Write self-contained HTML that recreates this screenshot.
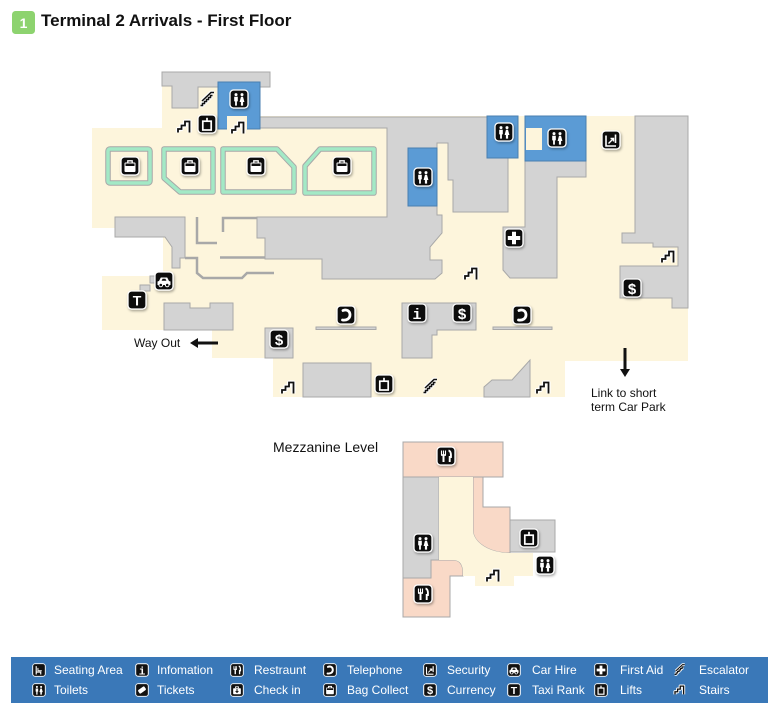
<!DOCTYPE html>
<html><head><meta charset="utf-8"><style>
html,body{margin:0;padding:0;background:#fff;}
svg{display:block;}
</style></head><body>
<svg width="772" height="706" viewBox="0 0 772 706" xmlns="http://www.w3.org/2000/svg" xmlns:xlink="http://www.w3.org/1999/xlink" font-family="'Liberation Sans', Arial, sans-serif">
<defs>
<filter id="sh" x="-40%" y="-40%" width="180%" height="180%"><feDropShadow dx="1" dy="1.5" stdDeviation="1.3" flood-color="#000" flood-opacity="0.35"/></filter>
<symbol id="wc" viewBox="0 0 20 20"><rect x="1" y="1" width="18" height="18" rx="3.5" fill="#111" stroke="#fff" stroke-width="1.3"/><circle cx="7" cy="5.6" r="1.5" fill="#fff"/><path d="M5.2 7.8h3.6v4.6h-0.9v4.2h-1.8v-4.2h-0.9z" fill="#fff"/><circle cx="13" cy="5.6" r="1.5" fill="#fff"/><path d="M12 7.8h2l1.4 5.2h-1.3v3.6h-2.2v-3.6h-1.3z" fill="#fff"/></symbol>
<symbol id="bag" viewBox="0 0 20 20"><rect x="1" y="1" width="18" height="18" rx="3.5" fill="#111" stroke="#fff" stroke-width="1.3"/><path d="M7.8 6.5V4.8h4.4v1.7" fill="none" stroke="#fff" stroke-width="1.3"/><rect x="4.5" y="6.5" width="11" height="9.5" rx="1" fill="#fff"/><rect x="5.5" y="7.5" width="9" height="2.5" fill="#111"/></symbol>
<symbol id="lift" viewBox="0 0 20 20"><rect x="1" y="1" width="18" height="18" rx="3.5" fill="#111" stroke="#fff" stroke-width="1.3"/><rect x="5.8" y="7.2" width="8.4" height="8.8" fill="none" stroke="#fff" stroke-width="1.7"/><path d="M10 3.8V7.2" stroke="#fff" stroke-width="1.7"/></symbol>
<symbol id="phone" viewBox="0 0 20 20"><rect x="1" y="1" width="18" height="18" rx="3.5" fill="#111" stroke="#fff" stroke-width="1.3"/><path d="M7 5.5c3.8-1.5 7 0.5 7 4.3c0 3.8-3.3 5.8-7.5 5.2" fill="none" stroke="#fff" stroke-width="2.8" stroke-linecap="round"/></symbol>
<symbol id="aid" viewBox="0 0 20 20"><rect x="1" y="1" width="18" height="18" rx="3.5" fill="#111" stroke="#fff" stroke-width="1.3"/><path d="M8 3.8h4v4.2h4.2v4h-4.2v4.2h-4v-4.2H3.8v-4H8z" fill="#fff"/></symbol>
<symbol id="sec" viewBox="0 0 20 20"><rect x="1" y="1" width="18" height="18" rx="3.5" fill="#111" stroke="#fff" stroke-width="1.3"/><path d="M5 5.5v10.5h10" fill="none" stroke="#fff" stroke-width="1.6"/><path d="M14.5 4.5v8.5" stroke="#fff" stroke-width="1.6"/><path d="M7.5 13.5l5-5M9.5 8.5h3v3" fill="none" stroke="#fff" stroke-width="1.4"/></symbol>
<symbol id="car" viewBox="0 0 20 20"><rect x="1" y="1" width="18" height="18" rx="3.5" fill="#111" stroke="#fff" stroke-width="1.3"/><path d="M3.5 14v-3.5l1.5-0.5 1.8-3.5h6.4l1.8 3.5 1.5 0.5V14z" fill="#fff"/><path d="M7.6 9.8l1-2h2.8l1 2z" fill="#111"/><circle cx="6.8" cy="14" r="1.8" fill="#111" stroke="#fff" stroke-width="1"/><circle cx="13.2" cy="14" r="1.8" fill="#111" stroke="#fff" stroke-width="1"/></symbol>
<symbol id="food" viewBox="0 0 20 20"><rect x="1" y="1" width="18" height="18" rx="3.5" fill="#111" stroke="#fff" stroke-width="1.3"/><path d="M5.5 4.5v4.3M7.5 4.5v4.3M9.5 4.5v4.3" stroke="#fff" stroke-width="1.1"/><path d="M5 9h5" stroke="#fff" stroke-width="1.6"/><path d="M7.5 9v7" stroke="#fff" stroke-width="2"/><path d="M12.5 4.5c2.2 0.4 2.6 3.5 2.4 6.5h-1.2v5" fill="none" stroke="#fff" stroke-width="1.9"/></symbol>
<symbol id="seat" viewBox="0 0 20 20"><rect x="1" y="1" width="18" height="18" rx="3.5" fill="#111" stroke="#fff" stroke-width="1.3"/><path d="M6 4.5v8.5h6.5v3.5M6 13v3.5" fill="none" stroke="#fff" stroke-width="1.6"/><path d="M8.5 7v4h5.5" fill="none" stroke="#fff" stroke-width="1.4"/></symbol>
<symbol id="ticket" viewBox="0 0 20 20"><rect x="1" y="1" width="18" height="18" rx="3.5" fill="#111" stroke="#fff" stroke-width="1.3"/><g transform="rotate(-35 10 10)"><rect x="4.5" y="7" width="11" height="6" rx="1.5" fill="#fff"/></g></symbol>
<symbol id="checkin" viewBox="0 0 20 20"><rect x="1" y="1" width="18" height="18" rx="3.5" fill="#111" stroke="#fff" stroke-width="1.3"/><path d="M8 7.5V5.5h4v2" fill="none" stroke="#fff" stroke-width="1.3"/><rect x="4.5" y="7.5" width="11" height="8.5" rx="1" fill="#fff"/><path d="M10 8.5v5M8 11.5l2 2 2-2" fill="none" stroke="#111" stroke-width="1.4"/></symbol>
<symbol id="stairs" viewBox="0 0 20 20"><path d="M4 16.5v-3.5h3.5V9.5H11V5.5h4.5v11" fill="none" stroke="#fff" stroke-width="4.2" stroke-linejoin="round"/><path d="M4 16.5v-3.5h3.5V9.5H11V5.5h4.5v11" fill="none" stroke="#111" stroke-width="1.8"/></symbol>
<symbol id="esc" viewBox="0 0 20 20"><path d="M3.5 16.5h2v-2h2v-2h2v-2h2v-2h2v-2h2M5 12L14 3.5h3" fill="none" stroke="#fff" stroke-width="3.8" stroke-linejoin="round"/><path d="M3.5 16.5h2v-2h2v-2h2v-2h2v-2h2v-2h2M5 12L14 3.5h3" fill="none" stroke="#111" stroke-width="1.5"/></symbol>
</defs>

<!-- Header -->
<rect x="12" y="11" width="23" height="23" rx="3.5" fill="#8dd36f"/>
<text x="23.5" y="28" font-size="14" font-weight="bold" fill="#fff" text-anchor="middle">1</text>
<text x="41" y="26" font-size="17" font-weight="bold" fill="#111">Terminal 2 Arrivals - First Floor</text>

<!-- Main floor cream -->
<polygon points="92,128 162,128 162,83 219,83 219,116 688,116 688,361 565,361 565,397 273,397 273,358 212,358 212,330 102,330 102,276 163,276 163,237 115,237 115,228 92,228" fill="#fdf5dc"/>

<!-- gray blocks -->
<g fill="#d3d3d3" stroke="#a8a8a8" stroke-width="1">
<polygon points="162,72 270,72 270,87 198,87 198,108 172,108 172,86 162,86"/>
<polygon points="260,117 487,117 487,158 508,158 508,212 453,212 453,180 448,180 448,143 437,143 437,215 442,215 442,233 430,247 430,260 442,260 442,273 435,279 322,279 322,259 265,259 265,238 257,238 257,217 387,217 387,128 260,128"/>
<polygon points="525,161 586,161 586,177 557,177 557,278 510,278 503,270 503,227 525,227"/>
<polygon points="635,116 688,116 688,308 672,308 672,298 620,298 620,266 678,266 678,247 653,247 653,243 622,243 622,233 635,233"/>
<polygon points="115,217 185,217 185,258 180,258 180,268 172,268 172,247 165,237 115,237"/>
<rect x="150" y="276" width="5" height="7"/>
<rect x="140" y="285" width="10" height="6"/>
<polygon points="164,303 190,303 190,308 210,308 210,303 233,303 233,330 164,330"/>
<rect x="265" y="328" width="28" height="30"/>
<rect x="316" y="327" width="60" height="2.5"/>
<rect x="303" y="363" width="68" height="34"/>
<polygon points="402,303 476,303 476,330 437,330 437,335 432,335 432,358 402,358"/>
<rect x="493" y="327" width="59" height="2.5"/>
<polygon points="484,397 484,387 492,380 512,380 530,360 530,397"/>
</g>

<!-- wall lines -->
<g fill="none" stroke="#a8a8a8" stroke-width="2.5">
<polyline points="197,217 197,243 217,243"/>
<polyline points="223,232 223,218 257,218"/>
<polyline points="220,257.5 265,257.5"/>
<polyline points="185,258 197,258 197,273 203,278 242,278 247,273 274,273"/>
</g>

<!-- blue toilets -->
<g fill="#5b9bd5" stroke="#4a7fb0" stroke-width="1">
<rect x="218" y="82" width="42" height="47"/>
<rect x="408" y="148" width="29" height="58"/>
<rect x="487" y="116" width="31" height="42"/>
<rect x="525" y="116" width="61" height="45"/>
</g>
<rect x="227" y="116" width="20" height="14" fill="#fdf5dc"/>
<rect x="526" y="128" width="16" height="22" fill="#fdf5dc"/>

<!-- carousels -->
<g fill="none" stroke-linejoin="round">
<g stroke="#a8a8a8" stroke-width="5.5">
<rect x="108" y="149" width="42" height="34" rx="2"/>
<polygon points="164,149 213,149 213,192 180,192 164,178"/>
<polygon points="223,149 277,149 294,167 294,192 223,192"/>
<polygon points="320,149 374,149 374,193 305,193 305,166"/>
</g>
<g stroke="#a3e9c6" stroke-width="3.5">
<rect x="108" y="149" width="42" height="34" rx="2"/>
<polygon points="164,149 213,149 213,192 180,192 164,178"/>
<polygon points="223,149 277,149 294,167 294,192 223,192"/>
<polygon points="320,149 374,149 374,193 305,193 305,166"/>
</g>
</g>

<!-- map icons -->
<g filter="url(#sh)">
<use href="#wc" x="229" y="89" width="20" height="20"/>
<use href="#lift" x="197" y="114" width="20" height="20"/>
<use href="#bag" x="120" y="156" width="20" height="20"/>
<use href="#bag" x="180" y="156" width="20" height="20"/>
<use href="#bag" x="246" y="156" width="20" height="20"/>
<use href="#bag" x="332" y="156" width="20" height="20"/>
<use href="#wc" x="413" y="167" width="20" height="20"/>
<use href="#wc" x="494" y="122" width="20" height="20"/>
<use href="#wc" x="547" y="128" width="20" height="20"/>
<use href="#sec" x="601" y="130" width="20" height="20"/>
<use href="#aid" x="504" y="228" width="20" height="20"/>
<use href="#car" x="154" y="271" width="20" height="20"/>
<use href="#phone" x="336" y="305" width="20" height="20"/>
<use href="#phone" x="512" y="305" width="20" height="20"/>
<use href="#lift" x="374" y="374" width="20" height="20"/>
</g>
<g filter="url(#sh)" font-weight="bold" fill="#fff" text-anchor="middle">
<rect x="623" y="279" width="18" height="18" rx="3.5" fill="#111" stroke="#fff" stroke-width="1.3"/>
<text x="632" y="294" font-size="15">$</text>
<rect x="270" y="330" width="18" height="18" rx="3.5" fill="#111" stroke="#fff" stroke-width="1.3"/>
<text x="279" y="345" font-size="15">$</text>
<rect x="453" y="304" width="18" height="18" rx="3.5" fill="#111" stroke="#fff" stroke-width="1.3"/>
<text x="462" y="319" font-size="15">$</text>
<rect x="408" y="304" width="18" height="18" rx="3.5" fill="#111" stroke="#fff" stroke-width="1.3"/>
<text x="417" y="319" font-size="15" font-family="'Liberation Mono', monospace">i</text>
<rect x="128" y="291" width="18" height="18" rx="3.5" fill="#111" stroke="#fff" stroke-width="1.3"/>
<text x="137" y="305.5" font-size="14">T</text>
</g>
<g>
<use href="#esc" x="197" y="89" width="20" height="20"/>
<use href="#esc" x="420" y="376" width="20" height="20"/>
<use href="#stairs" x="174" y="116" width="20" height="20"/>
<use href="#stairs" x="228" y="117" width="20" height="20"/>
<use href="#stairs" x="461" y="263" width="20" height="20"/>
<use href="#stairs" x="658" y="246" width="20" height="20"/>
<use href="#stairs" x="278" y="377" width="20" height="20"/>
<use href="#stairs" x="533" y="377" width="20" height="20"/>
</g>

<!-- Way Out / Link -->
<text x="134" y="347" font-size="12" fill="#111">Way Out</text>
<path d="M197 343H218" stroke="#111" stroke-width="3"/>
<path d="M190 343l8-5v10z" fill="#111"/>
<path d="M625 348V370" stroke="#111" stroke-width="3"/>
<path d="M625 377l-5-8h10z" fill="#111"/>
<text x="591" y="397" font-size="12" fill="#111">Link to short</text>
<text x="591" y="411" font-size="12" fill="#111">term Car Park</text>

<!-- Mezzanine -->
<text x="273" y="452" font-size="14" fill="#111">Mezzanine Level</text>
<g stroke="#a8a8a8" stroke-width="1">
<rect x="403" y="442" width="100" height="35" fill="#f9d9c7"/>
<path d="M473,477 L483,477 L483,507 L510,507 L510,553 A37,23 0 0 1 473,530 Z" fill="#f9d9c7"/>
<polygon points="403,477 439,477 439,560 431,560 431,578 403,578" fill="#d3d3d3"/>
<path d="M403,578 L431,578 L431,560 L453,560 Q463,560 463,573 L463,576 L450,576 L450,617 L403,617 Z" fill="#f9d9c7"/>
<rect x="510" y="520" width="45" height="32" fill="#d3d3d3"/>
</g>
<path d="M439,477 L473,477 L473,530 A37,23 0 0 0 510,553 L533,553 L533,576 L514,576 L514,586 L475,586 L475,576 L463,576 L463,573 Q463,560 453,560 L439,560 Z" fill="#fdf5dc"/>
<g filter="url(#sh)">
<use href="#food" x="436" y="446" width="20" height="20"/>
<use href="#wc" x="413" y="533" width="20" height="20"/>
<use href="#lift" x="519" y="528" width="20" height="20"/>
<use href="#wc" x="535" y="555" width="20" height="20"/>
<use href="#food" x="413" y="584" width="20" height="20"/>
</g>
<use href="#stairs" x="483" y="565" width="20" height="20"/>

<!-- Legend -->
<rect x="11" y="657" width="757" height="46" fill="#3a78b8"/>
<use href="#seat" x="32" y="663" width="14" height="14"/>
<use href="#food" x="230" y="663" width="14" height="14"/>
<use href="#phone" x="323" y="663" width="14" height="14"/>
<use href="#sec" x="423" y="663" width="14" height="14"/>
<use href="#car" x="507" y="663" width="14" height="14"/>
<use href="#aid" x="594" y="663" width="14" height="14"/>
<use href="#esc" x="672" y="662" width="15" height="15"/>
<use href="#wc" x="32" y="683" width="14" height="14"/>
<use href="#ticket" x="135" y="683" width="14" height="14"/>
<use href="#checkin" x="230" y="683" width="14" height="14"/>
<use href="#bag" x="323" y="683" width="14" height="14"/>
<use href="#lift" x="594" y="683" width="14" height="14"/>
<use href="#stairs" x="672" y="682" width="15" height="15"/>
<g font-weight="bold" fill="#fff" text-anchor="middle">
<rect x="135.7" y="663.7" width="12.6" height="12.6" rx="2.5" fill="#111" stroke="#fff" stroke-width="1"/>
<text x="142" y="674.5" font-size="11" font-family="'Liberation Mono', monospace">i</text>
<rect x="423.7" y="683.7" width="12.6" height="12.6" rx="2.5" fill="#111" stroke="#fff" stroke-width="1"/>
<text x="430" y="694" font-size="11">$</text>
<rect x="507.7" y="683.7" width="12.6" height="12.6" rx="2.5" fill="#111" stroke="#fff" stroke-width="1"/>
<text x="514" y="694" font-size="10.5">T</text>
</g>
<g font-size="12" fill="#fff">
<text x="54" y="674">Seating Area</text>
<text x="157" y="674">Infomation</text>
<text x="254" y="674">Restraunt</text>
<text x="347" y="674">Telephone</text>
<text x="447" y="674">Security</text>
<text x="532" y="674">Car Hire</text>
<text x="620" y="674">First Aid</text>
<text x="699" y="674">Escalator</text>
<text x="54" y="694">Toilets</text>
<text x="157" y="694">Tickets</text>
<text x="254" y="694">Check in</text>
<text x="347" y="694">Bag Collect</text>
<text x="447" y="694">Currency</text>
<text x="532" y="694">Taxi Rank</text>
<text x="620" y="694">Lifts</text>
<text x="699" y="694">Stairs</text>
</g>
</svg>
</body></html>
